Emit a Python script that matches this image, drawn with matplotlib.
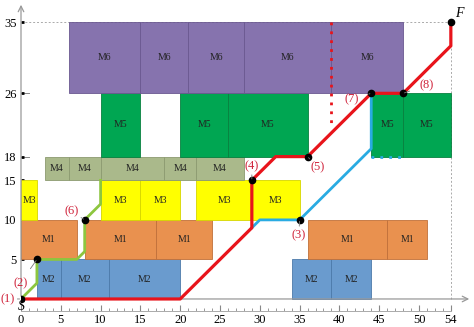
import numpy as np
import matplotlib.pyplot as plt

plt.rcParams['font.family'] = ['Liberation Serif', 'DejaVu Serif']

# machine blocks: (start, end) per machine row
rows = ['M2', 'M1', 'M3', 'M4', 'M5', 'M6']
row_y = {'M2': (0, 5), 'M1': (5, 10), 'M3': (10, 15), 'M4': (15, 18), 'M5': (18, 26), 'M6': (26, 35)}
m2_blocks = [(2, 5), (5, 11), (11, 20), (34, 39), (39, 44)]
m1_blocks = [(0, 7), (8, 17), (17, 24), (36, 46), (46, 51)]
m3_blocks = [(0, 2), (10, 15), (15, 20), (22, 29), (29, 35)]
m4_blocks = [(3, 6), (6, 10), (10, 18), (18, 22), (22, 28)]
m5_blocks = [(10, 15), (20, 26), (26, 36), (44, 48), (48, 54)]
m6_blocks = [(6, 15), (15, 21), (21, 28), (28, 39), (39, 48)]
blocks = {'M1': m1_blocks, 'M2': m2_blocks, 'M3': m3_blocks,
          'M4': m4_blocks, 'M5': m5_blocks, 'M6': m6_blocks}
colors = {'M1': '#E9914F', 'M2': '#6A9BCE', 'M3': '#FFFF00',
          'M4': '#AAB98B', 'M5': '#00A652', 'M6': '#8673AE'}
edges = {'M1': '#C0703A', 'M2': '#4C7AAA', 'M3': '#D6D600',
         'M4': '#8C9A70', 'M5': '#08803F', 'M6': '#6A5890'}

# paths
red_x = [0, 20, 29, 29, 32, 36, 44, 48, 54, 54]
red_y = [0, 0, 9, 15, 18, 18, 26, 26, 32, 35]
blue_x = [29, 30, 35, 44, 44]
blue_y = [9, 10, 10, 19, 26]
green_x = [0, 2, 2, 7, 8, 8, 10, 10]
green_y = [0, 2, 5, 5, 6, 10, 12, 15]

# marked points and labels
pt_x = [0, 2, 35, 29, 36, 8, 44, 48, 54]
pt_y = [0, 5, 10, 15, 18, 10, 26, 26, 35]
lab_txt = ['(1)', '(2)', '(3)', '(4)', '(5)', '(6)', '(7)', '(8)']
lab_x = [-1.7, -0.1, 34.9, 29.0, 37.3, 6.3, 41.6, 50.9]
lab_y = [0.0, 2.0, 8.1, 16.8, 16.6, 11.1, 25.3, 27.0]

xticks = [0, 5, 10, 15, 20, 25, 30, 35, 40, 45, 50, 54]
yticks = [5, 10, 15, 18, 26, 35]

fig = plt.figure(figsize=(4.74, 3.27), dpi=100)
W, H = 474, 327
sx, sy = 7.96, 7.91
x0px, y0px = 21, 299
ruler_y = -1.52
left = x0px / W
bottom = (H - 311) / H
ax = fig.add_axes([left, bottom, (472 - x0px) / W, (311 - 2) / H])
ax.set_xlim(0, (472 - x0px) / sx)
ax.set_ylim(ruler_y, (y0px - 2) / sy)

for m in rows:
    y_lo, y_hi = row_y[m]
    for a, b in blocks[m]:
        ax.bar(a, y_hi - y_lo, width=b - a, bottom=y_lo, align='edge',
               color=colors[m], edgecolor=edges[m], linewidth=0.6, zorder=2)
        ax.text((a + b) / 2, (y_lo + y_hi) / 2, m, ha='center', va='center',
                fontsize=7, color='#222222', zorder=3)

# reference lines
ax.plot([0, 54], [35, 35], ls=(0, (2, 2)), color='#AAAAAA', lw=0.7, zorder=1)
ax.plot([54, 54], [0, 35], ls=(0, (2, 2)), color='#AAAAAA', lw=0.7, zorder=1)
ax.plot([0, 1], [18, 18], color='#888888', lw=0.7, zorder=1)
ax.plot([0, 1], [26, 26], color='#888888', lw=0.7, zorder=1)

# dotted guides
ax.plot([39, 39], [35, 22], ls=(0, (1, 2.2)), color='#E8141B', lw=2, zorder=4)
ax.plot([44, 48], [18, 18], ls=(0, (1, 2.2)), color='#29ABE2', lw=2, zorder=4)

ax.plot(blue_x, blue_y, color='#29ABE2', lw=2, zorder=4)
ax.plot(red_x, red_y, color='#E8141B', lw=2.3, zorder=5)
ax.plot(green_x, green_y, color='#8DC63F', lw=2, zorder=4)

ax.plot(pt_x, pt_y, 'o', color='black', ms=4.5, zorder=6)

for t, lx, ly, px, py in zip(lab_txt, lab_x, lab_y, pt_x, pt_y):
    ax.annotate(t, xy=(px, py), xytext=(lx, ly), ha='center', va='center',
                fontsize=9, color='#D0243C', zorder=7, annotation_clip=False,
                arrowprops=dict(arrowstyle='-', color='#777777', lw=0.6,
                                shrinkA=5, shrinkB=1))

ax.text(0, -0.9, 'S', style='italic', fontsize=10, ha='center', va='center')
ax.text(54.5, 36.1, 'F', style='italic', fontsize=10, ha='left', va='center')

# axes with arrows
ax.annotate('', xy=(ax.get_xlim()[1], 0), xytext=(0, 0),
            arrowprops=dict(arrowstyle='->', color='#999999', lw=0.9))
ax.annotate('', xy=(0, ax.get_ylim()[1]), xytext=(0, 0),
            arrowprops=dict(arrowstyle='->', color='#999999', lw=0.9))

for s in ['top', 'right', 'left']:
    ax.spines[s].set_visible(False)
ax.spines['bottom'].set_bounds(0, 54)
ax.spines['bottom'].set_color('#AAAAAA')
ax.spines['bottom'].set_linewidth(0.7)

ax.set_xticks(xticks)
ax.set_xticks(np.arange(0, 55, 1), minor=True)
ax.tick_params(axis='x', which='major', direction='in', length=4, color='#888888',
               labelsize=9, pad=2)
ax.tick_params(axis='x', which='minor', direction='in', length=2, color='#888888')
ax.set_yticks(yticks)
ax.tick_params(axis='y', direction='in', length=2, width=2, color='black',
               labelsize=9, pad=3)

fig.savefig('out.png', dpi=100)
